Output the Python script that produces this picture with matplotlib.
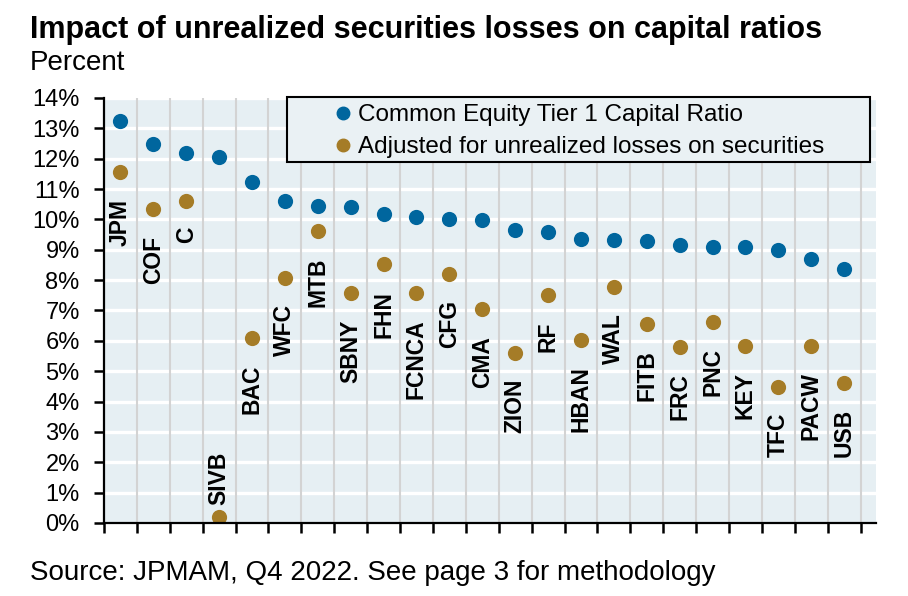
import numpy as np
import matplotlib
matplotlib.use("Agg")
import matplotlib.pyplot as plt
from matplotlib.lines import Line2D
from matplotlib.patches import Rectangle

# data (percent)
banks = ['JPM', 'COF', 'C', 'SIVB', 'BAC', 'WFC', 'MTB', 'SBNY', 'FHN', 'FCNCA',
         'CFG', 'CMA', 'ZION', 'RF', 'HBAN', 'WAL', 'FITB', 'FRC', 'PNC', 'KEY',
         'TFC', 'PACW', 'USB']
cet1 = [13.25, 12.5, 12.2, 12.07, 11.23, 10.6, 10.45, 10.42, 10.17, 10.08,
        10.01, 9.99, 9.65, 9.6, 9.35, 9.32, 9.29, 9.16, 9.1, 9.08,
        8.99, 8.7, 8.38]
adjusted = [11.55, 10.34, 10.62, 0.21, 6.08, 8.08, 9.63, 7.58, 8.52, 7.58,
            8.21, 7.04, 5.61, 7.51, 6.03, 7.77, 6.55, 5.81, 6.62, 5.83,
            4.49, 5.83, 4.62]
yticks = list(range(0, 15))

blue = '#00669E'
gold = '#A57C27'
bg = '#E6EFF3'

plt.rcParams['font.family'] = ['Liberation Sans', 'DejaVu Sans']

fig = plt.figure(figsize=(9.08, 5.96), dpi=100)
ax = fig.add_axes([0.1145, 0.1225, 0.8503, 0.7131])
ax.set_facecolor(bg)

x = np.arange(len(banks))
ax.scatter(x, cet1, s=120, color=blue, zorder=3, linewidths=0)
ax.scatter(x, adjusted, s=120, color=gold, zorder=3, linewidths=0)

# bank labels under the adjusted dot (SIVB above it)
for i, b in enumerate(banks):
    if adjusted[i] < 2:
        ax.annotate(b, (x[i], adjusted[i]), xytext=(0, 8.5), textcoords='offset points',
                    rotation=90, ha='center', va='bottom', fontsize=16.5, fontweight='bold', zorder=4)
    else:
        ax.annotate(b, (x[i], adjusted[i]), xytext=(0, -19), textcoords='offset points',
                    rotation=90, ha='center', va='top', fontsize=16.5, fontweight='bold', zorder=4)

ax.set_xlim(-0.5, 22.97)
ax.set_ylim(0, 14)
ax.set_yticks(yticks)
ax.set_yticklabels([f'{v}%' for v in yticks], fontsize=17)
ax.set_xticks(np.arange(-0.5, len(banks), 1.0))
ax.set_xticklabels([])

# grid: white horizontal, grey vertical
for v in yticks[1:]:
    ax.axhline(v, color='white', lw=2.4, zorder=1)
for v in np.arange(0.5, len(banks), 1.0):
    ax.axvline(v, color='#D3D3D3', lw=1.5, zorder=1)

for s in ['top', 'right']:
    ax.spines[s].set_visible(False)
for s in ['left', 'bottom']:
    ax.spines[s].set_linewidth(1.6)
    ax.spines[s].set_zorder(5)
ax.tick_params(axis='both', direction='out', length=7.5, width=1.8, color='black')
ax.tick_params(axis='y', pad=10)

# legend box
box = Rectangle((0.237, 0.849), 0.755, 0.154, transform=ax.transAxes,
                facecolor='#EAF1F4', edgecolor='black', lw=1.5, zorder=6, clip_on=False)
ax.add_patch(box)
handles = [Line2D([], [], marker='o', ls='', color=blue, markersize=9),
           Line2D([], [], marker='o', ls='', color=gold, markersize=9)]
leg = ax.legend(handles, ['Common Equity Tier 1 Capital Ratio',
                          'Adjusted for unrealized losses on securities'],
                loc='upper left', bbox_to_anchor=(0.288, 0.997), fontsize=17.5,
                frameon=False, handletextpad=0.1, borderpad=0.2, borderaxespad=0,
                labelspacing=0.42, handlelength=1.0)
leg.set_zorder(7)

fig.text(0.033, 0.936, 'Impact of unrealized securities losses on capital ratios',
         fontsize=22, fontweight='bold', va='baseline')
fig.text(0.033, 0.883, 'Percent', fontsize=20, va='baseline')
fig.text(0.033, 0.027, 'Source: JPMAM, Q4 2022. See page 3 for methodology',
         fontsize=20, va='baseline')

plt.savefig('out.png', dpi=100)
